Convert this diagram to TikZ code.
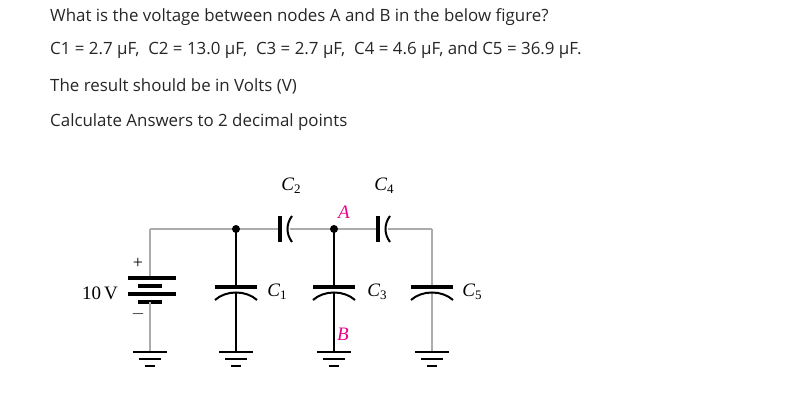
\documentclass[tikz,border=0pt]{standalone}
\usepackage{fontspec}
\setmainfont{Open Sans}
\newfontfamily\cirf{Liberation Serif}
\newcommand\capsub[1]{\raisebox{-0.3ex}{\fontsize{13}{14}\selectfont\upshape #1}}
\begin{document}
\begin{tikzpicture}[x=1pt,y=-1pt,
  wire/.style={draw=gray!65,line width=1.8pt},
  bwire/.style={draw=black,line width=1.4pt},
  plate/.style={draw=black,line width=3.2pt},
  txt/.style={anchor=west,inner sep=0pt,font=\fontsize{16.9}{20}\selectfont,text=black!85},
  lab/.style={inner sep=0pt,font=\cirf\itshape\fontsize{19}{22}\selectfont},
  mag/.style={lab,text=magenta}]
\useasboundingbox (0,0) rectangle (812,401);
\node[txt] (t1) at (50,17) {What is the voltage between nodes A and B in the below figure?};
\node[txt] (t2) at (50,50) {C1 = 2.7 μF,\ \ C2 = 13.0 μF,\ \ C3 = 2.7 μF,\ \ C4 = 4.6 μF, and C5 = 36.9 μF.};
\node[txt] (t3) at (50,86) {The result should be in Volts (V)};
\node[txt] (t4) at (50,122) {Calculate Answers to 2 decimal points};
\coordinate (bt) at (150,229);
\coordinate (j1) at (236,229);
\coordinate (nA) at (334,229);
\coordinate (rt) at (432,229);
\draw[wire] (bt) -- (280,229);
\draw[wire] (290,229) -- (378,229);
\draw[wire] (388,229) -- (rt);
\foreach \x in {280,378}{
 \draw[plate] (\x,216) -- (\x,242);
 \draw[black,line width=2pt] (\x+12,216) .. controls (\x+6,224) and (\x+6,234) .. (\x+12,242);}
\draw[wire] (bt) -- (150,278);
\draw[plate] (128,278) -- (176,278);
\draw[plate] (138,286) -- (162,286);
\draw[plate] (128,294) -- (176,294);
\draw[plate] (138,302) -- (162,302);
\draw[wire] (150,302) -- (150,352);
\draw[bwire] (j1) -- (236,287); \draw[bwire] (236,293) -- (236,352);
\draw[bwire] (nA) -- (334,287); \draw[bwire] (334,293) -- (334,352);
\draw[wire] (rt) -- (432,287); \draw[wire] (432,293) -- (432,352);
\foreach \x in {236,334,432}{
 \draw[plate] (\x-21,287) -- (\x+21,287);
 \draw[black,line width=2pt] (\x-21,300) .. controls (\x-10,290) and (\x+10,290) .. (\x+21,300);}
\foreach \x in {150,236,334,432}{
 \draw[black,line width=2.6pt] (\x-17,352) -- (\x+17,352);
 \draw[black,line width=2.6pt] (\x-11,359) -- (\x+11,359);
 \draw[black,line width=2.6pt] (\x-5,366) -- (\x+5,366);}
\fill (j1) circle (4);
\fill (nA) circle (4);
\node[lab] (lc2) at (291,186) {C\capsub{2}};
\node[lab] (lc4) at (384,186) {C\capsub{4}};
\node[mag] (la) at (344,212) {A};
\node[mag] (lb) at (343,334) {B};
\node[lab] (lc1) at (277,292) {C\capsub{1}};
\node[lab] (lc3) at (377,292) {C\capsub{3}};
\node[lab] (lc5) at (472,292) {C\capsub{5}};
\node[inner sep=0pt,font=\cirf\fontsize{19}{22}\selectfont] (lv) at (100,293) {10\,V};
\node[inner sep=0pt,font=\cirf\fontsize{18}{20}\selectfont] (lp) at (138,263) {+};
\node[inner sep=0pt,font=\cirf\fontsize{18}{20}\selectfont] (lm) at (138,314) {$-$};
\end{tikzpicture}
\end{document}
